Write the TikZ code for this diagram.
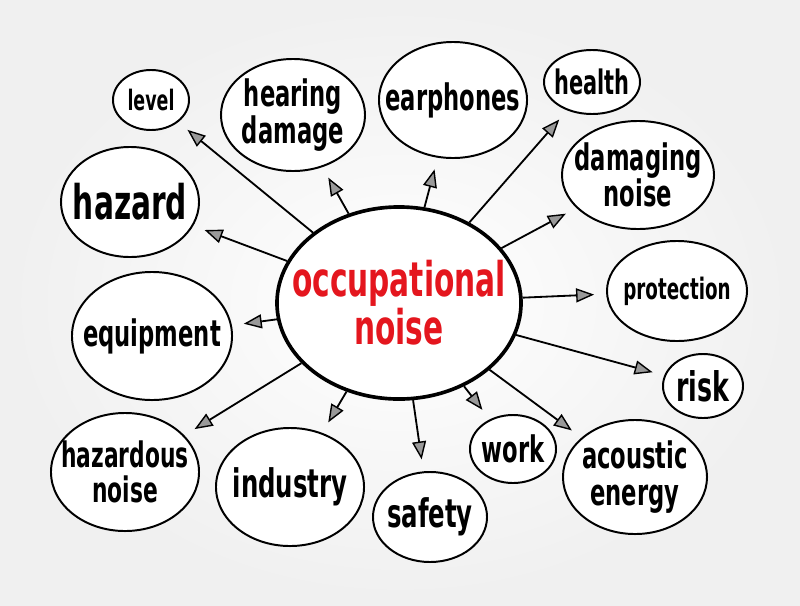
\documentclass[tikz,border=0pt]{standalone}
\usepackage{fontspec}
\setmainfont{DejaVu Sans}[FakeStretch=0.62]
\usetikzlibrary{shapes.geometric,arrows.meta}
\definecolor{markred}{RGB}{228,22,30}
\newcommand\hand[1]{\fontsize{#1}{#1}\selectfont\bfseries}
\tikzset{
  bubble/.style={ellipse, draw, line width=1.4pt, inner sep=0pt, fill=white},
  wh/.style 2 args={minimum width=#1cm, minimum height=#2cm},
  txt/.style 2 args={label={[font=\hand{#1}, align=center, inner sep=0pt]center:#2}},
  arr/.style={line width=1.3pt, shorten >=0.3cm,
    -{Triangle[length=0.45cm, width=0.35cm, fill=black!40, line width=1pt]}}
}
\begin{document}
\begin{tikzpicture}[x=0.025cm, y=-0.025cm]
    % background
    \useasboundingbox (0,0) rectangle (800,605);
    \shade[inner color=white, outer color=black!6] (0,0) rectangle (800,605);

    % centre
    \node[bubble, wh={6.1}{4.8}, line width=2.6pt,
      label={[font=\hand{34}, text=markred, align=center]center:occupational\\noise}] (occ) at (399,303) {};

    % outer bubbles, clockwise from top left
    \node[bubble, wh={1.9}{1.5}, txt={20}{level}] (level) at (151,100) {};
    \node[bubble, wh={3.6}{2.8}, txt={26}{hearing\\damage}] (hearing) at (293,115) {};
    \node[bubble, wh={3.7}{2.9}, txt={26}{earphones}] (earphones) at (453,100) {};
    \node[bubble, wh={2.4}{1.6}, txt={24}{health}] (health) at (592,82) {};
    \node[bubble, wh={3.8}{2.7}, txt={26}{damaging\\noise}] (damaging) at (638,175) {};
    \node[bubble, wh={3.5}{2.5}, txt={21}{protection}] (protection) at (677,291) {};
    \node[bubble, wh={2.0}{1.6}, txt={29}{risk}] (risk) at (703,386) {};
    \node[bubble, wh={3.6}{2.85}, txt={26}{acoustic\\energy}] (acoustic) at (635,477) {};
    \node[bubble, wh={2.15}{1.7}, txt={26}{work}] (work) at (513,449) {};
    \node[bubble, wh={2.85}{2.25}, txt={28}{safety}] (safety) at (430,517) {};
    \node[bubble, wh={3.7}{2.95}, txt={28}{industry}] (industry) at (290,487) {};
    \node[bubble, wh={3.7}{2.95}, txt={25}{hazardous\\noise}] (hazardous) at (125,472) {};
    \node[bubble, wh={4.0}{3.2}, txt={26}{equipment}] (equipment) at (152,336) {};
    \node[bubble, wh={3.45}{2.75}, txt={34}{hazard}] (hazard) at (130,202) {};

    % arrows out of the centre
    \draw[arr] (occ) -- (level);
    \draw[arr] (occ) -- (hearing);
    \draw[arr] (occ) -- (earphones);
    \draw[arr] (occ) -- (health);
    \draw[arr] (occ) -- (damaging);
    \draw[arr] (occ) -- (protection);
    \draw[arr] (occ) -- (risk);
    \draw[arr] (occ) -- (acoustic);
    \draw[arr] (occ) -- (work);
    \draw[arr] (occ) -- (safety);
    \draw[arr] (occ) -- (industry);
    \draw[arr] (occ) -- (hazardous);
    \draw[arr] (occ) -- (equipment);
    \draw[arr] (occ) -- (hazard);
\end{tikzpicture}
\end{document}
